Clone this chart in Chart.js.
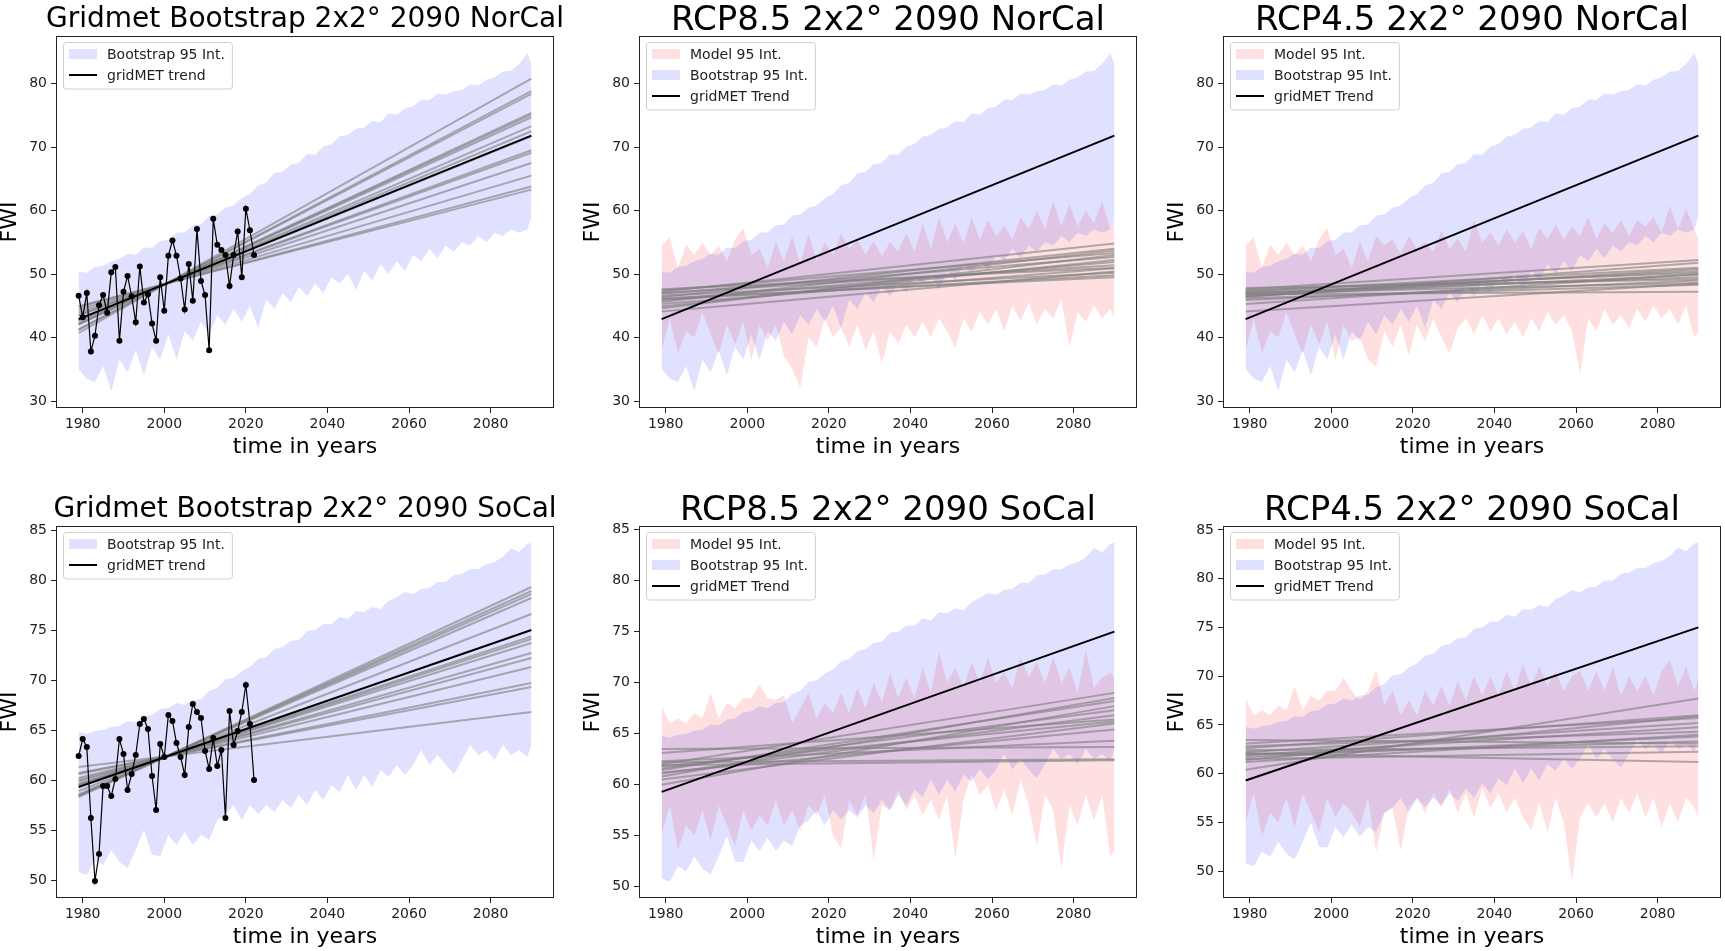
<!DOCTYPE html>
<html>
<head>
<meta charset="utf-8">
<title>FWI projections</title>
<script src="https://cdn.jsdelivr.net/npm/chart.js@4.4.1/dist/chart.umd.min.js"></script>
<style>
  html, body { margin: 0; padding: 0; background: #fff; }
  body { width: 1725px; height: 951px; position: relative; overflow: hidden; }
  .panel { position: absolute; }
  .panel canvas { display: block; }
</style>
</head>
<body>
<div class="panel" id="p1"><canvas></canvas></div>
<div class="panel" id="p2"><canvas></canvas></div>
<div class="panel" id="p3"><canvas></canvas></div>
<div class="panel" id="p4"><canvas></canvas></div>
<div class="panel" id="p5"><canvas></canvas></div>
<div class="panel" id="p6"><canvas></canvas></div>
<script>
// Six-panel FWI figure: gridMET bootstrap vs RCP8.5 / RCP4.5 model ranges, NorCal and SoCal.

const TITLES = [
  "Gridmet Bootstrap 2x2° 2090 NorCal",
  "RCP8.5 2x2° 2090 NorCal",
  "RCP4.5 2x2° 2090 NorCal",
  "Gridmet Bootstrap 2x2° 2090 SoCal",
  "RCP8.5 2x2° 2090 SoCal",
  "RCP4.5 2x2° 2090 SoCal",
];
const X_LABEL = "time in years";
const Y_LABEL = "FWI";
const X_TICKS = [1980, 2000, 2020, 2040, 2060, 2080];
const NC_Y_TICKS = [30, 40, 50, 60, 70, 80];
const SC_Y_TICKS = [50, 55, 60, 65, 70, 75, 80, 85];

// years at which the 95% bands were read
const YEARS = [1979, 1981, 1983, 1985, 1987, 1989, 1991, 1993, 1995, 1997,
  1999, 2001, 2003, 2005, 2007, 2009, 2011, 2013, 2015, 2017,
  2019, 2021, 2023, 2025, 2027, 2029, 2031, 2033, 2035, 2037,
  2039, 2041, 2043, 2045, 2047, 2049, 2051, 2053, 2055, 2057,
  2059, 2061, 2063, 2065, 2067, 2069, 2071, 2073, 2075, 2077,
  2079, 2081, 2083, 2085, 2087, 2089, 2090];

const NC_BOOT_HI = [50.4, 50.2, 51.1, 51.3, 52.0, 52.4, 53.2, 53.1, 54.2, 54.1,
  55.2, 55.4, 56.5, 56.6, 57.7, 57.8, 59.2, 59.4, 60.5, 60.8,
  62.0, 62.6, 64.0, 64.4, 65.9, 66.1, 67.3, 67.5, 68.9, 68.8,
  70.1, 70.5, 71.7, 71.9, 72.9, 73.1, 74.1, 73.9, 75.3, 75.1,
  76.1, 76.4, 77.5, 77.4, 78.4, 78.3, 78.8, 79.0, 79.9, 79.7,
  80.6, 81.0, 81.9, 82.0, 83.1, 84.8, 83.0];
const NC_BOOT_LO = [35.0, 33.5, 33.0, 35.5, 31.5, 36.5, 34.5, 38.0, 34.0, 38.5,
  36.5, 40.5, 36.5, 41.0, 39.5, 42.5, 40.5, 43.5, 42.0, 44.5,
  42.5, 45.0, 41.5, 46.0, 44.5, 47.0, 45.5, 48.0, 46.5, 48.5,
  47.0, 49.5, 48.5, 50.0, 47.5, 50.5, 49.0, 51.5, 50.0, 52.0,
  50.5, 53.0, 52.0, 54.0, 52.5, 54.5, 53.5, 55.0, 54.5, 56.0,
  55.0, 56.5, 56.0, 57.0, 56.5, 57.0, 59.0];

const NC85_HI = [54.5, 55.8, 51.0, 54.6, 53.0, 55.0, 53.0, 54.5, 52.0, 55.5,
  57.3, 53.0, 54.0, 51.0, 55.0, 52.0, 56.0, 51.5, 56.4, 52.0,
  55.0, 53.0, 56.4, 54.0, 55.4, 53.0, 55.3, 52.8, 55.0, 53.5,
  56.5, 53.5, 58.0, 54.0, 59.0, 55.0, 58.0, 54.8, 59.0, 55.4,
  58.5, 56.0, 57.6, 55.5, 59.0, 57.0, 60.0, 57.0, 61.5, 57.5,
  61.0, 57.5, 60.0, 58.0, 61.5, 57.0, 59.0];
const NC85_LO = [38.0, 43.0, 37.5, 41.0, 40.0, 44.0, 40.5, 37.5, 42.0, 39.0,
  42.5, 36.4, 42.0, 39.5, 42.0, 37.0, 35.1, 32.0, 40.0, 38.5,
  43.0, 40.0, 41.5, 38.5, 42.0, 38.0, 41.0, 35.9, 41.0, 39.0,
  42.0, 40.0, 42.5, 40.0, 43.0, 41.0, 38.3, 43.0, 41.0, 44.0,
  42.0, 44.5, 41.0, 45.0, 42.5, 45.5, 42.0, 44.5, 43.0, 46.0,
  38.5, 44.0, 42.5, 45.0, 43.0, 44.5, 43.0];

const NC45_HI = [54.5, 55.8, 51.0, 54.6, 53.0, 55.0, 53.0, 54.5, 52.0, 55.5,
  57.3, 53.0, 54.0, 51.0, 55.0, 52.0, 56.0, 54.5, 55.5, 53.2,
  56.0, 54.0, 55.0, 53.5, 56.8, 54.0, 55.6, 53.5, 58.5, 55.0,
  56.5, 54.5, 57.0, 55.0, 56.8, 54.0, 57.3, 55.5, 57.8, 55.5,
  57.5, 56.0, 59.0, 55.5, 58.0, 56.5, 58.5, 56.0, 58.5, 57.5,
  59.0, 56.5, 60.8, 57.0, 60.3, 57.0, 55.5];
const NC45_LO = [38.0, 43.0, 37.5, 41.0, 40.0, 44.0, 40.5, 37.5, 42.0, 39.0,
  42.5, 36.4, 42.0, 39.5, 40.0, 36.5, 35.4, 41.0, 38.5, 42.0,
  37.2, 42.0, 39.5, 43.0, 40.0, 37.5, 41.5, 43.0, 40.5, 43.5,
  41.0, 43.0, 40.5, 42.5, 40.0, 43.0, 41.0, 44.0, 42.0, 43.5,
  41.0, 34.3, 43.0, 41.0, 44.5, 42.0, 43.5, 41.5, 44.5, 42.5,
  45.0, 43.0, 44.5, 42.0, 45.0, 40.0, 41.0];

const SC_BOOT_HI = [64.8, 64.6, 64.9, 65.0, 65.3, 65.4, 65.9, 65.8, 66.4, 66.5,
  67.1, 67.2, 67.7, 67.5, 68.0, 68.1, 68.9, 69.2, 70.1, 70.2,
  70.9, 71.3, 72.1, 72.3, 73.1, 73.3, 73.9, 74.0, 74.9, 75.0,
  75.6, 75.6, 76.3, 76.1, 76.9, 76.8, 77.3, 77.1, 77.9, 78.3,
  78.8, 78.6, 79.1, 79.2, 79.8, 79.8, 80.5, 80.6, 81.1, 81.1,
  81.6, 81.8, 82.3, 83.2, 82.8, 83.6, 83.7];
const SC_BOOT_LO = [50.8, 50.5, 52.0, 51.5, 53.0, 51.8, 51.2, 53.0, 55.0, 52.5,
  52.4, 54.5, 53.5, 54.8, 53.5, 54.5, 54.0, 56.0, 56.5, 57.5,
  56.0, 57.5, 56.6, 57.5, 56.8, 58.0, 57.2, 58.5, 57.5, 59.0,
  58.0, 59.5, 58.8, 60.5, 59.0, 60.5, 59.3, 61.0, 60.3, 61.5,
  60.5, 61.5, 63.0, 61.5, 62.5, 61.5, 60.6, 62.0, 63.5, 62.5,
  63.0, 62.0, 63.5, 62.5, 63.0, 62.3, 63.5];

const SC85_HI = [67.7, 66.0, 66.5, 66.0, 67.0, 66.5, 69.0, 66.5, 68.0, 67.5,
  68.5, 68.5, 69.8, 68.5, 68.3, 68.8, 66.0, 67.5, 69.0, 66.5,
  68.0, 67.0, 69.0, 67.0, 69.5, 67.5, 70.0, 68.0, 71.0, 68.5,
  70.5, 68.5, 71.5, 69.0, 73.0, 70.0, 71.5, 69.5, 72.0, 70.0,
  72.5, 70.0, 71.0, 69.5, 72.5, 70.5, 72.0, 70.0, 72.5, 70.0,
  71.5, 69.0, 73.2, 69.5, 70.5, 71.0, 70.5];
const SC85_LO = [55.0, 58.0, 53.6, 56.0, 55.0, 57.5, 54.5, 58.0, 56.0, 54.0,
  57.5, 55.5, 57.0, 56.0, 58.5, 56.0, 57.5, 55.5, 58.0, 57.0,
  59.0, 55.0, 53.8, 58.5, 57.0, 59.0, 52.6, 58.0, 57.5, 59.5,
  57.5, 59.0, 57.0, 58.5, 56.5, 59.0, 52.8, 58.5, 61.0, 59.0,
  60.0, 57.5, 59.5, 57.0, 60.5, 58.0, 54.0, 59.0, 57.5, 51.8,
  58.0, 56.0, 59.0, 56.5, 59.0, 53.0, 53.5];

const SC45_HI = [67.7, 66.0, 66.5, 66.0, 67.0, 66.5, 69.0, 66.5, 68.0, 67.5,
  68.5, 68.5, 69.8, 68.5, 67.5, 68.5, 70.7, 67.0, 68.5, 66.0,
  67.5, 66.0, 68.5, 67.0, 69.0, 67.0, 69.5, 67.5, 70.0, 68.0,
  70.0, 68.0, 70.5, 68.5, 71.2, 69.0, 71.0, 69.0, 70.5, 68.5,
  70.0, 70.5, 68.5, 70.5, 68.5, 71.0, 68.0, 70.0, 68.5, 70.0,
  68.0, 70.5, 71.7, 69.0, 71.0, 68.5, 69.8];
const SC45_LO = [55.0, 58.0, 53.6, 56.0, 55.0, 57.5, 54.5, 58.0, 56.0, 54.0,
  57.5, 55.5, 57.0, 56.0, 54.5, 57.5, 52.0, 56.0, 56.5, 52.1,
  56.5, 57.5, 56.0, 58.0, 56.5, 58.5, 56.0, 58.0, 55.5, 58.5,
  56.5, 58.0, 56.0, 57.5, 55.5, 54.2, 57.0, 54.0, 57.5, 55.0,
  49.0, 55.5, 57.0, 55.5, 57.0, 55.0, 57.5, 56.0, 58.0, 55.5,
  57.5, 54.5, 57.0, 55.0, 57.5, 56.5, 55.5];

// observed gridMET annual values
const OBS_YEARS = [1979, 1980, 1981, 1982, 1983, 1984, 1985, 1986, 1987, 1988,
  1989, 1990, 1991, 1992, 1993, 1994, 1995, 1996, 1997, 1998,
  1999, 2000, 2001, 2002, 2003, 2004, 2005, 2006, 2007, 2008,
  2009, 2010, 2011, 2012, 2013, 2014, 2015, 2016, 2017, 2018,
  2019, 2020, 2021, 2022];
const NC_OBS = [46.6, 43.2, 47.0, 37.8, 40.3, 45.1, 46.7, 43.9, 50.3, 51.1,
  39.5, 47.2, 49.7, 46.5, 42.4, 51.2, 45.5, 46.8, 42.2, 39.5,
  49.5, 44.2, 52.9, 55.3, 52.9, 49.3, 44.4, 51.6, 45.8, 57.1,
  48.9, 46.7, 38.0, 58.7, 54.6, 53.8, 53.0, 48.1, 53.0, 56.7,
  49.5, 60.3, 56.9, 53.0];
const SC_OBS = [62.4, 64.1, 63.3, 56.2, 49.9, 52.6, 59.4, 59.4, 58.4, 60.1,
  64.1, 62.6, 59.0, 60.6, 62.5, 65.6, 66.1, 65.1, 60.4, 57.0,
  63.6, 62.3, 66.5, 65.9, 63.7, 62.3, 60.5, 65.3, 67.6, 66.8,
  66.2, 62.9, 61.1, 64.2, 61.4, 63.0, 56.2, 66.9, 63.5, 64.9,
  66.8, 69.5, 65.6, 60.0];

// straight trend lines, value at 1979 and at 2090
const LINE_YEARS = [1979, 2090];
const NC_TREND = [42.9, 71.8];
const SC_TREND = [59.3, 75.0];

const NC_BS_START = [40.75, 41.2, 41.3, 42.05, 42.1, 42.2, 42.55, 42.75, 42.9, 43.45, 43.55, 43.95, 44.4, 44.8, 44.95];
const NC_BS_END   = [80.8, 78.8, 78.4, 75.4, 75.1, 74.7, 73.3, 72.5, 71.7, 69.5, 69.1, 67.5, 65.5, 63.8, 63.3];
const NC85_START  = [47.4, 47.2, 47.0, 46.9, 46.6, 46.4, 46.2, 45.9, 45.6, 45.3, 44.9, 44.6, 44.1, 47.6, 46.0];
const NC85_END    = [53.3, 54.8, 51.4, 52.7, 50.2, 54.0, 49.5, 51.9, 53.7, 50.9, 52.2, 53.0, 50.4, 51.0, 49.8];
const NC45_START  = [47.6, 47.4, 47.3, 47.1, 47.0, 46.9, 46.8, 46.6, 46.4, 46.2, 45.9, 45.3, 44.1, 47.8, 46.5];
const NC45_END    = [52.2, 50.2, 51.0, 49.5, 48.6, 50.5, 47.2, 49.9, 51.8, 48.3, 49.0, 50.0, 48.5, 49.2, 50.8];
const SC_BS_START = [58.3, 58.4, 58.45, 58.55, 58.9, 59.5, 59.5, 59.6, 59.85, 60.0, 60.2, 60.6, 60.7, 61.3];
const SC_BS_END   = [79.3, 78.9, 78.6, 78.2, 76.6, 74.35, 74.1, 73.7, 72.7, 72.2, 71.3, 69.7, 69.3, 66.8];
const SC85_START  = [63.5, 63.1, 62.2, 62.0, 61.9, 61.6, 61.45, 61.2, 61.1, 60.8, 60.5, 60.0, 61.8, 62.3];
const SC85_END    = [63.7, 66.4, 62.5, 69.0, 62.4, 67.3, 68.2, 65.4, 66.8, 68.5, 66.0, 67.7, 66.2, 64.3];
const SC45_START  = [63.45, 63.1, 62.8, 62.6, 62.4, 62.2, 62.1, 61.9, 61.7, 61.5, 61.4, 60.4, 62.0, 61.2];
const SC45_END    = [63.1, 65.7, 64.3, 66.0, 62.8, 65.2, 61.2, 64.75, 63.8, 62.25, 65.9, 67.7, 63.3, 64.0];

const LEG_MODEL = "Model 95 Int.";
const LEG_BOOT = "Bootstrap 95 Int.";
const LEG_TREND_OBS = "gridMET trend";
const LEG_TREND = "gridMET Trend";

// ---- styling / layout ----
const BLUE_FILL = "rgba(0,0,255,0.12)";
const RED_FILL = "rgba(255,0,0,0.12)";
const GRAY_LINE = "rgba(128,128,128,0.62)";
const FONT = '"DejaVu Sans", sans-serif';

const FRAME_W = 498, FRAME_H = 372;
const FRAME_X = [56, 639, 1223];
const FRAME_Y = [36, 526];
// symmetric side margins so the full-width title centres over the plot
const PAD_L = 62, PAD_R = 62, PAD_T = 36, PAD_B = 60;

// title sizes differ in the source figure: bootstrap panels use a smaller font
const TITLE_SMALL = { size: 28, padTop: 9.0, padBottom: 4.6 };
const TITLE_LARGE = { size: 34, padTop: 7.3, padBottom: 1.5 };
const LEGEND_FONT = 14;

Chart.defaults.font.family = FONT;
Chart.defaults.color = "#222";

const pts = (xs, ys) => xs.map((x, i) => ({ x, y: ys[i] }));

// axes frame around the plot area
const frameBox = {
  id: "frameBox",
  afterDatasetsDraw(chart) {
    const { ctx, chartArea: a } = chart;
    ctx.save();
    ctx.strokeStyle = "#222";
    ctx.lineWidth = 1;
    ctx.strokeRect(Math.round(a.left) + 0.5, Math.round(a.top) + 0.5,
      Math.round(a.right - a.left) - 1, Math.round(a.bottom - a.top) - 1);
    ctx.restore();
  },
};

// matplotlib-like legend box in the upper-left corner of the plot area
const boxLegend = {
  id: "boxLegend",
  afterDraw(chart, args, opts) {
    const items = opts.items || [];
    if (!items.length) return;
    const { ctx, chartArea: a } = chart;
    ctx.save();
    ctx.font = LEGEND_FONT + "px " + FONT;
    const textW = Math.max(...items.map(it => ctx.measureText(it.label).width));
    const x0 = a.left + 7, y0 = a.top + 6;
    const w = 44 + textW + 7, h = items.length * 21 + 4.5;
    ctx.beginPath();
    ctx.roundRect(x0 + 0.5, y0 + 0.5, w, h, 3);
    ctx.fillStyle = "rgba(255,255,255,0.8)";
    ctx.fill();
    ctx.strokeStyle = "#d0d0d0";
    ctx.lineWidth = 1;
    ctx.stroke();
    items.forEach((it, i) => {
      const cy = y0 + 12 + i * 21;
      if (it.kind === "patch") {
        ctx.fillStyle = it.color;
        ctx.fillRect(x0 + 6, cy - 5, 28, 10);
      } else {
        ctx.strokeStyle = it.color;
        ctx.lineWidth = 2;
        ctx.beginPath();
        ctx.moveTo(x0 + 6, cy);
        ctx.lineTo(x0 + 34, cy);
        ctx.stroke();
      }
      ctx.fillStyle = "#222";
      ctx.textBaseline = "middle";
      ctx.fillText(it.label, x0 + 44, cy + 1);
    });
    ctx.restore();
  },
};

function bandSets(lo, hi, color, order) {
  return [
    { data: pts(YEARS, lo), showLine: true, borderWidth: 0, borderColor: "transparent", pointRadius: 0, fill: false, order },
    { data: pts(YEARS, hi), showLine: true, borderWidth: 0, borderColor: "transparent", pointRadius: 0, fill: "-1", backgroundColor: color, order },
  ];
}

function lineSets(starts, ends) {
  return starts.map((s, i) => ({
    data: pts(LINE_YEARS, [s, ends[i]]),
    showLine: true, borderColor: GRAY_LINE, borderWidth: 2, pointRadius: 0, fill: false, order: 3,
  }));
}

function buildPanel(p) {
  const div = document.getElementById(p.id);
  const W = FRAME_W + PAD_L + PAD_R, H = FRAME_H + PAD_T + PAD_B;
  div.style.left = (FRAME_X[p.col] - PAD_L) + "px";
  div.style.top = (FRAME_Y[p.row] - PAD_T) + "px";
  div.style.width = W + "px";
  div.style.height = H + "px";
  const canvas = div.querySelector("canvas");
  canvas.width = W; canvas.height = H;
  canvas.style.width = W + "px"; canvas.style.height = H + "px";

  const datasets = [];
  if (p.obs) {
    datasets.push({
      data: pts(OBS_YEARS, p.obs), showLine: true, borderColor: "#000", borderWidth: 1.2,
      pointRadius: 3, pointBackgroundColor: "#000", pointBorderWidth: 0, fill: false, order: 0,
    });
  }
  datasets.push({ data: pts(LINE_YEARS, p.trend), showLine: true, borderColor: "#000", borderWidth: 2, pointRadius: 0, fill: false, order: 1 });
  datasets.push(...lineSets(p.lines[0], p.lines[1]));
  datasets.push(...bandSets(p.boot[0], p.boot[1], BLUE_FILL, 5));
  if (p.model) datasets.push(...bandSets(p.model[0], p.model[1], RED_FILL, 6));

  const legendItems = p.model
    ? [{ label: LEG_MODEL, kind: "patch", color: RED_FILL },
       { label: LEG_BOOT, kind: "patch", color: BLUE_FILL },
       { label: LEG_TREND, kind: "line", color: "#000" }]
    : [{ label: LEG_BOOT, kind: "patch", color: BLUE_FILL },
       { label: LEG_TREND_OBS, kind: "line", color: "#000" }];

  const ts = p.model ? TITLE_LARGE : TITLE_SMALL;
  const tickFont = { size: 14 };
  new Chart(canvas, {
    type: "scatter",
    data: { datasets },
    options: {
      responsive: false,
      animation: false,
      devicePixelRatio: 1,
      events: [],
      layout: { padding: 0 },
      elements: { line: { tension: 0 } },
      plugins: {
        legend: { display: false },
        tooltip: { enabled: false },
        filler: { drawTime: "beforeDatasetsDraw" },
        title: {
          display: true, text: p.title, color: "#000",
          font: { size: ts.size, weight: "normal", lineHeight: 0.8 },
          padding: { top: ts.padTop, bottom: ts.padBottom },
        },
        boxLegend: { items: legendItems },
      },
      scales: {
        x: {
          type: "linear", min: 1973.45, max: 2095.55,
          afterBuildTicks: s => { s.ticks = X_TICKS.map(v => ({ value: v })); },
          afterFit: s => { s.height = PAD_B; },
          ticks: { font: tickFont, color: "#222", padding: 3, maxRotation: 0, callback: v => String(v) },
          grid: { display: true, drawOnChartArea: false, drawTicks: true, tickLength: 5, color: "#222" },
          border: { display: false },
          title: { display: true, text: X_LABEL, color: "#000", font: { size: 22 }, padding: { top: 0, bottom: 8 } },
        },
        y: {
          type: "linear", min: p.yMin, max: p.yMax,
          afterBuildTicks: s => { s.ticks = p.yTicks.map(v => ({ value: v })); },
          afterFit: s => { s.width = PAD_L; },
          ticks: { font: tickFont, color: "#222", padding: 4, callback: v => String(v) },
          grid: { display: true, drawOnChartArea: false, drawTicks: true, tickLength: 5, color: "#222" },
          border: { display: false },
          title: { display: true, text: Y_LABEL, color: "#000", font: { size: 22 }, padding: { top: 3, bottom: 0 } },
        },
        // empty right-hand box that only reserves the right margin
        yPad: {
          type: "linear", position: "right", min: 0, max: 1,
          afterFit: s => { s.width = PAD_R; },
          ticks: { display: false },
          grid: { display: false, drawTicks: false },
          border: { display: false },
        },
      },
    },
    plugins: [frameBox, boxLegend],
  });
}

const PANELS = [
  { id: "p1", col: 0, row: 0, title: TITLES[0], yMin: 28.9, yMax: 87.5, yTicks: NC_Y_TICKS,
    boot: [NC_BOOT_LO, NC_BOOT_HI], model: null, lines: [NC_BS_START, NC_BS_END], trend: NC_TREND, obs: NC_OBS },
  { id: "p2", col: 1, row: 0, title: TITLES[1], yMin: 28.9, yMax: 87.5, yTicks: NC_Y_TICKS,
    boot: [NC_BOOT_LO, NC_BOOT_HI], model: [NC85_LO, NC85_HI], lines: [NC85_START, NC85_END], trend: NC_TREND },
  { id: "p3", col: 2, row: 0, title: TITLES[2], yMin: 28.9, yMax: 87.5, yTicks: NC_Y_TICKS,
    boot: [NC_BOOT_LO, NC_BOOT_HI], model: [NC45_LO, NC45_HI], lines: [NC45_START, NC45_END], trend: NC_TREND },
  { id: "p4", col: 0, row: 1, title: TITLES[3], yMin: 48.2, yMax: 85.4, yTicks: SC_Y_TICKS,
    boot: [SC_BOOT_LO, SC_BOOT_HI], model: null, lines: [SC_BS_START, SC_BS_END], trend: SC_TREND, obs: SC_OBS },
  { id: "p5", col: 1, row: 1, title: TITLES[4], yMin: 48.9, yMax: 85.35, yTicks: SC_Y_TICKS,
    boot: [SC_BOOT_LO, SC_BOOT_HI], model: [SC85_LO, SC85_HI], lines: [SC85_START, SC85_END], trend: SC_TREND },
  { id: "p6", col: 2, row: 1, title: TITLES[5], yMin: 47.25, yMax: 85.4, yTicks: SC_Y_TICKS,
    boot: [SC_BOOT_LO, SC_BOOT_HI], model: [SC45_LO, SC45_HI], lines: [SC45_START, SC45_END], trend: SC_TREND },
];

PANELS.forEach(buildPanel);
</script>
</body>
</html>
